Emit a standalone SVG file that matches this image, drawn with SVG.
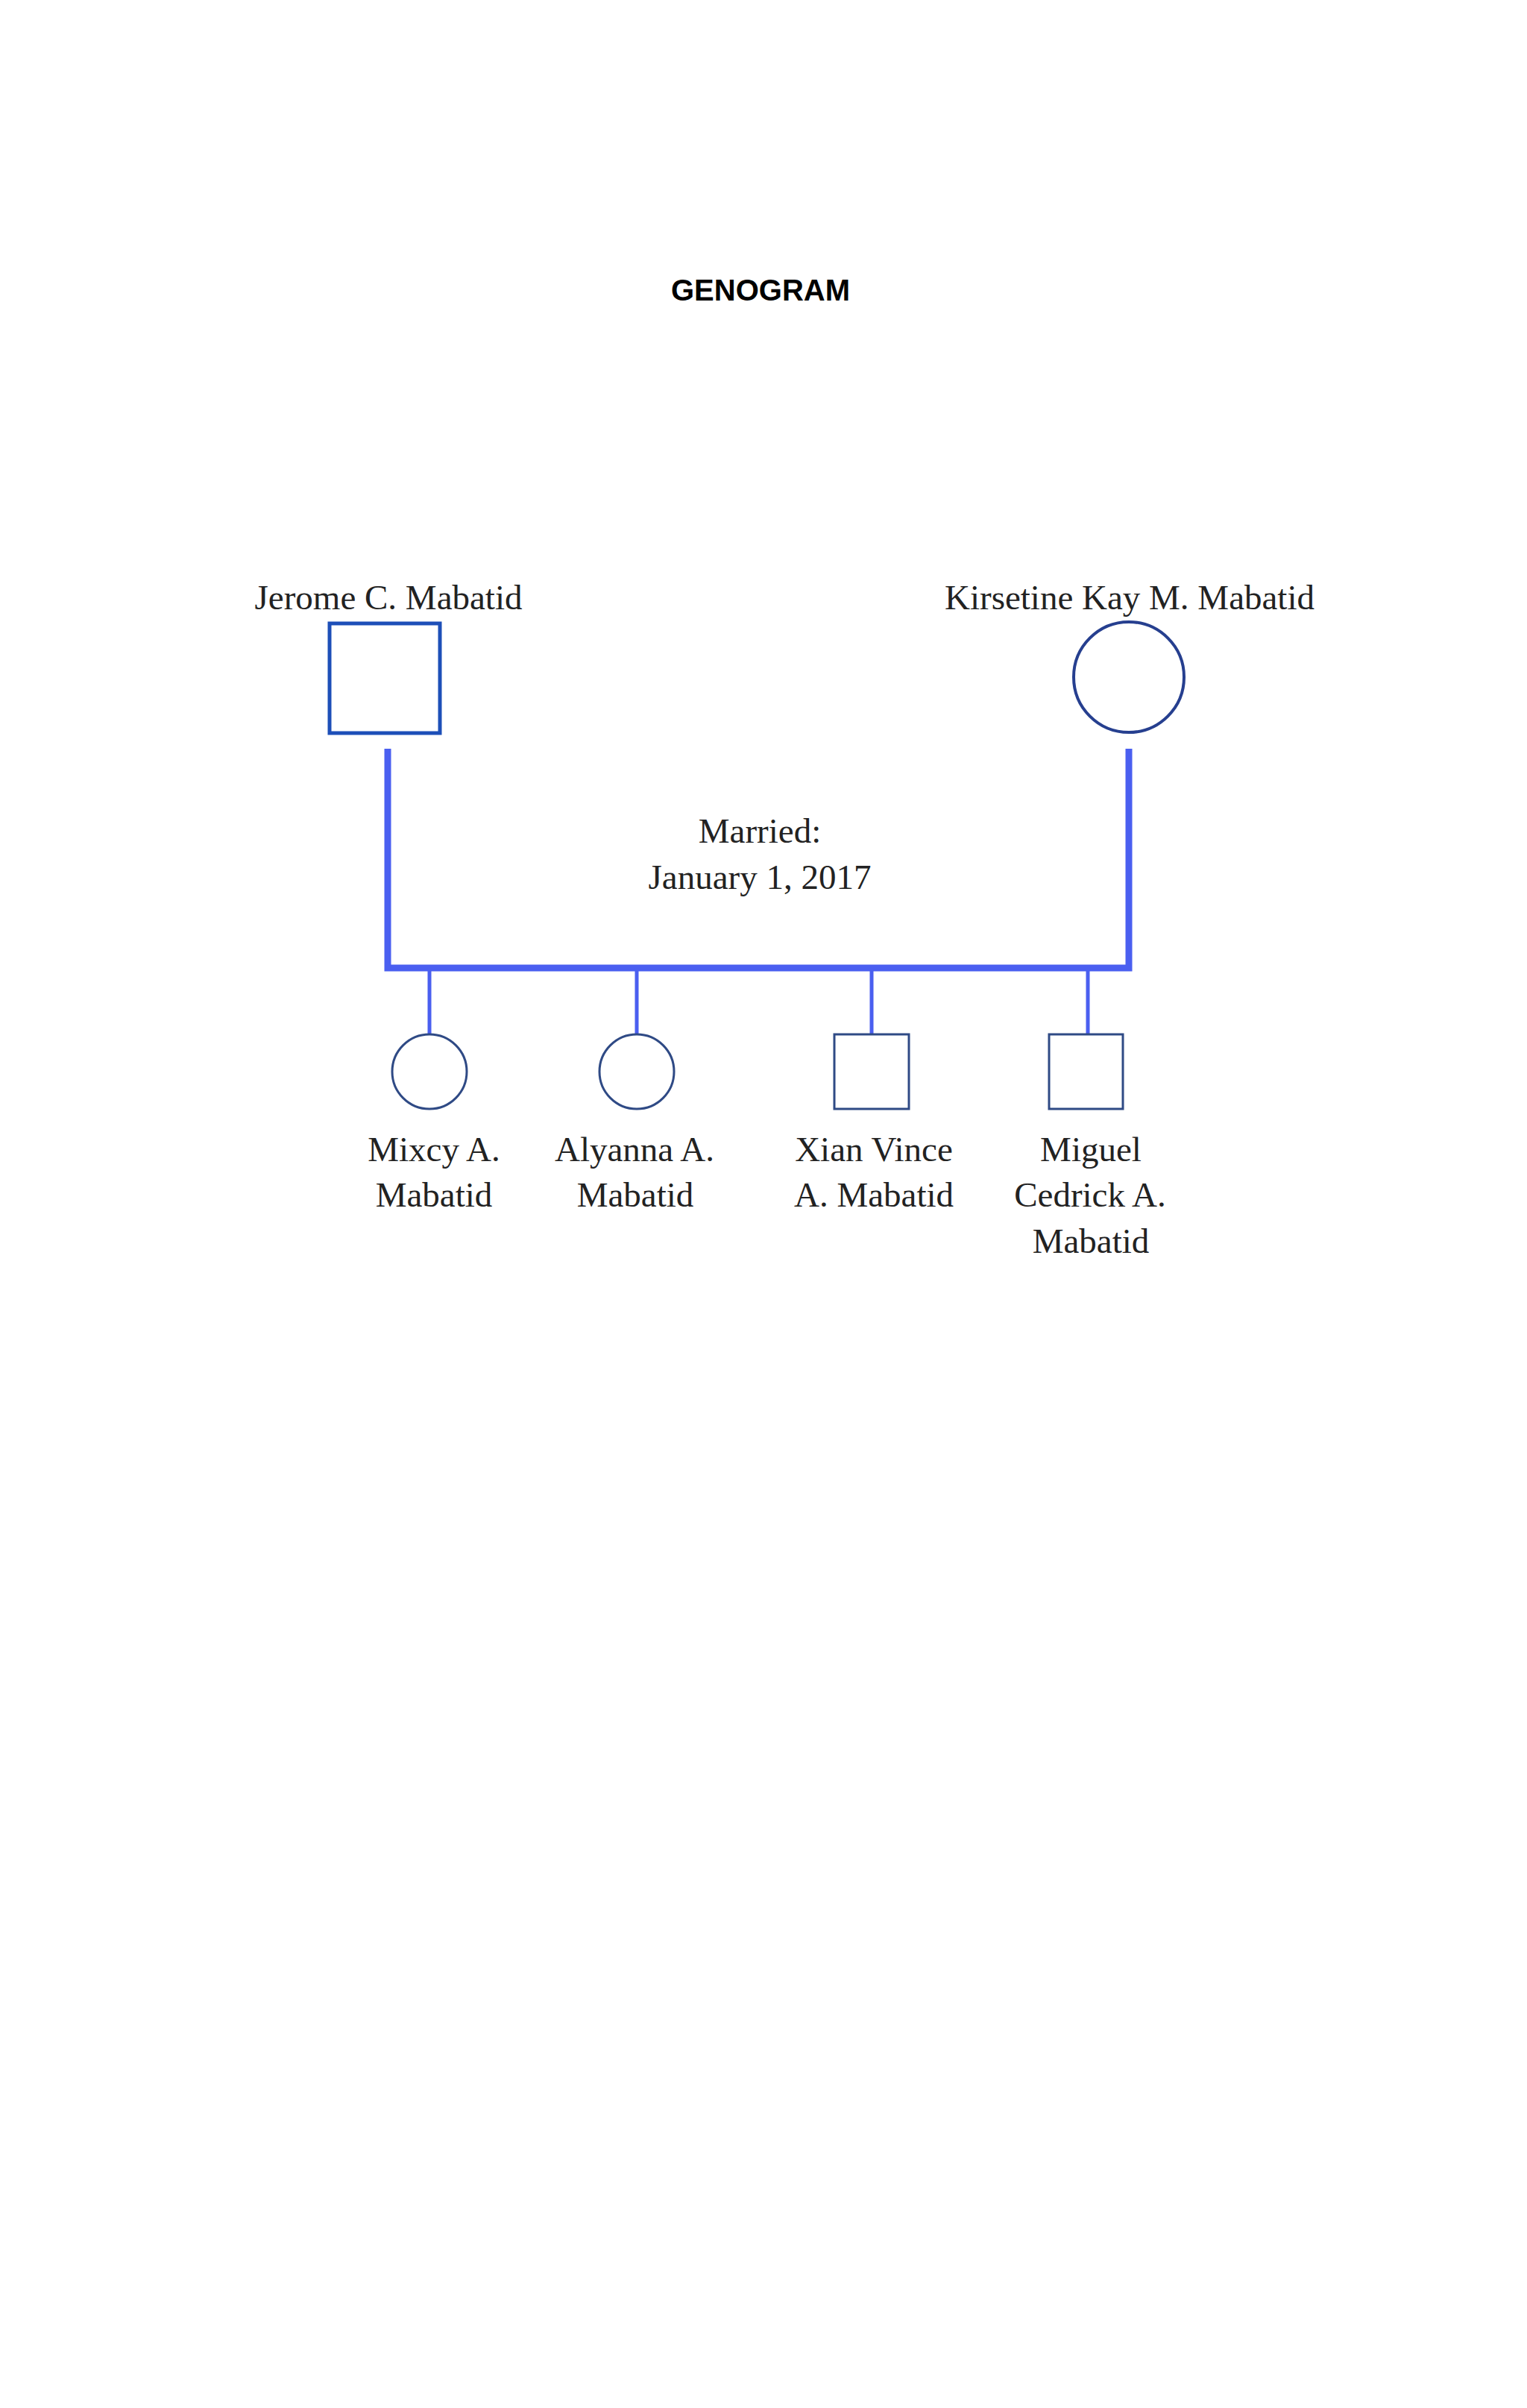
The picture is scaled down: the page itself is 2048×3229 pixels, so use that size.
<svg xmlns="http://www.w3.org/2000/svg" width="2048" height="3229" viewBox="0 0 2048 3229">
<style>
.t{font-family:"Liberation Serif","Times New Roman",serif;font-size:47px;fill:#222;text-anchor:middle}
.title{font-family:"Liberation Sans",Arial,sans-serif;font-size:40px;font-weight:bold;fill:#000;text-anchor:middle}
.conn{fill:none;stroke:#4a5ff0;stroke-linejoin:miter;stroke-linecap:butt}
.kid{fill:#fff;stroke:#2f4a85;stroke-width:3}
</style>
<rect width="2048" height="3229" fill="#fff"/>
<text class="title" x="1020" y="403">GENOGRAM</text>
<g id="connectors">
<path class="conn" stroke-width="9" d="M520 1004 V1298 H1514 V1004"/>
<path class="conn" stroke-width="5" d="M576 1298 V1387 M854 1298 V1387 M1169 1298 V1387 M1459 1298 V1387"/>
</g>
<g id="marriage-label">
<text class="t" x="1019" y="1130">Married:</text>
<text class="t" x="1019" y="1192">January 1, 2017</text>
</g>
<g id="father">
<rect x="442" y="836" width="148" height="147" fill="#fff" stroke="#1d4fb8" stroke-width="5"/>
<text class="t" x="521" y="817">Jerome C. Mabatid</text>
</g>
<g id="mother">
<circle cx="1514" cy="908" r="74" fill="#fff" stroke="#263f8f" stroke-width="4"/>
<text class="t" x="1515" y="817">Kirsetine Kay M. Mabatid</text>
</g>
<g id="child-mixcy">
<circle class="kid" cx="576" cy="1437" r="50"/>
<text class="t" x="582" y="1557">Mixcy A.</text>
<text class="t" x="582" y="1618">Mabatid</text>
</g>
<g id="child-alyanna">
<circle class="kid" cx="854" cy="1437" r="50"/>
<text class="t" x="851" y="1557">Alyanna A.</text>
<text class="t" x="852" y="1618">Mabatid</text>
</g>
<g id="child-xian">
<rect class="kid" x="1119" y="1387" width="100" height="100"/>
<text class="t" x="1172" y="1557">Xian Vince</text>
<text class="t" x="1172" y="1618">A. Mabatid</text>
</g>
<g id="child-miguel">
<rect class="kid" x="1407" y="1387" width="99" height="100"/>
<text class="t" x="1463" y="1557">Miguel</text>
<text class="t" x="1462" y="1618">Cedrick A.</text>
<text class="t" x="1463" y="1680">Mabatid</text>
</g>
</svg>
